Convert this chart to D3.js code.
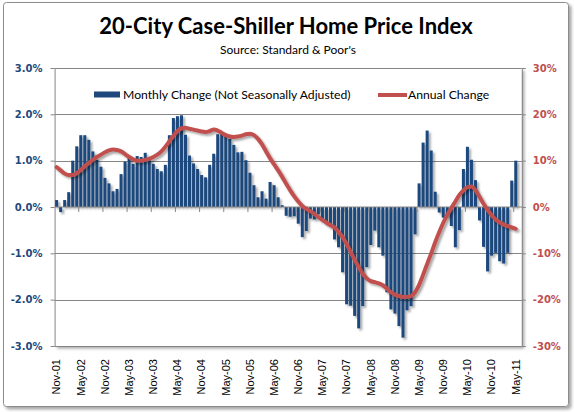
<!DOCTYPE html>
<html>
<head>
<meta charset="utf-8">
<script src="https://cdn.jsdelivr.net/npm/d3@7"></script>
<style>
    body { margin: 0; background: #fff; }
    svg { display: block; }
    .chart-title { font-family: Lato, "Open Sans", sans-serif; font-weight: bold; font-size: 22px; fill: #000; }
    .chart-subtitle { font-family: Lato, "Open Sans", sans-serif; font-size: 12px; fill: #000; }
    .legend text { font-family: Lato, "Open Sans", sans-serif; font-size: 12.2px; fill: #000; }
    .axis-left text { font-family: "DejaVu Sans", sans-serif; font-weight: bold; font-size: 10px; fill: #1F497D; }
    .axis-right text { font-family: "DejaVu Sans", sans-serif; font-weight: bold; font-size: 10px; fill: #C0504D; }
    .axis-x text { font-family: "Liberation Sans", Arial, sans-serif; font-size: 11px; fill: #000; }
</style>
</head>
<body>
<svg id="chart" width="574" height="412"></svg>
<script>
// monthly change, not seasonally adjusted (%), Nov-01 .. May-11
const monthly = [
    0.15, -0.11, 0.15, 0.32, 1.00, 1.31, 1.55, 1.55, 1.45, 1.20,
    1.02, 0.87, 0.63, 0.51, 0.34, 0.39, 0.71, 0.98, 1.07, 0.93,
    1.10, 1.08, 1.17, 1.03, 0.93, 0.82, 0.77, 0.91, 1.55, 1.92,
    1.96, 1.98, 1.56, 1.11, 0.94, 0.82, 0.69, 0.64, 0.91, 1.15,
    1.57, 1.58, 1.53, 1.47, 1.34, 1.18, 1.19, 1.01, 0.74, 0.47,
    0.21, 0.34, 0.18, 0.54, 0.47, 0.21, 0.04, -0.19, -0.21, -0.20,
    -0.36, -0.65, -0.52, -0.25, -0.27, -0.16, -0.25, -0.36, -0.43, -0.70,
    -0.87, -1.41, -2.10, -2.13, -2.35, -2.62, -2.14, -1.30, -0.82, -0.51,
    -0.87, -1.05, -1.84, -2.21, -2.30, -2.57, -2.82, -2.23, -2.14, -0.59,
    0.51, 1.39, 1.65, 1.22, 0.33, -0.12, -0.23, -0.20, -0.41, -0.87,
    -0.50, 0.82, 1.30, 1.02, 0.58, -0.29, -0.86, -1.39, -1.05, -0.99,
    -1.17, -1.22, -0.99, 0.57, 1.00
];

// annual change (%), same months
const annual = [
    8.6, 7.9, 7.2, 6.9, 6.9, 7.3, 8.0, 8.8, 9.5, 10.2,
    10.8, 11.3, 11.8, 12.2, 12.4, 12.3, 12.0, 11.4, 10.8, 10.3,
    10.0, 10.0, 10.2, 10.4, 10.8, 11.3, 12.0, 13.0, 14.2, 15.4,
    16.4, 17.0, 17.1, 16.9, 16.7, 16.5, 16.3, 16.2, 16.4, 16.7,
    16.5, 16.0, 15.5, 15.2, 15.1, 15.2, 15.4, 15.7, 15.8, 15.5,
    14.7, 13.5, 12.0, 10.5, 9.2, 7.9, 6.5, 5.0, 3.6, 2.3,
    1.2, 0.2, -0.4, -0.9, -1.5, -2.2, -2.8, -3.4, -3.9, -4.4,
    -5.4, -6.5, -8.0, -9.7, -11.4, -13.0, -14.4, -15.4, -16.0, -16.2,
    -16.5, -16.9, -17.6, -18.4, -18.9, -19.2, -19.4, -19.4, -19.2, -18.4,
    -16.8, -14.6, -12.3, -10.0, -7.6, -5.4, -3.4, -1.7, -0.2, 1.2,
    2.6, 3.6, 4.3, 4.4, 3.6, 2.2, 0.7, -0.6, -1.8, -2.7,
    -3.3, -3.8, -4.1, -4.4, -4.7
];

const tickLabels = [
    "Nov-01", "May-02", "Nov-02", "May-03", "Nov-03", "May-04", "Nov-04",
    "May-05", "Nov-05", "May-06", "Nov-06", "May-07", "Nov-07", "May-08",
    "Nov-08", "May-09", "Nov-09", "May-10", "Nov-10", "May-11"
];
const leftTicks = [-3, -2, -1, 0, 1, 2, 3];
const rightTicks = [-30, -20, -10, 0, 10, 20, 30];

const fmtMonth = d3.timeFormat("%b-%y");
// category axis runs one empty month past the data (Jun-11)
const months = d3.timeMonth.range(new Date(2001, 10, 1), new Date(2011, 6, 1)).map(fmtMonth);

const svg = d3.select("#chart");
const width = 574, height = 412;
const plot = { left: 54.6, right: 521.8, top: 68, bottom: 346 };

const barColor = "#1F497D";
const lineColor = "#C0504D";
const gridColor = "#868686";

// drop shadow like the spreadsheet effect
const defs = svg.append("defs");
function addShadow(id, dx, dy, blur, opacity) {
    defs.append("filter")
        .attr("id", id)
        .attr("x", "-10%").attr("y", "-10%")
        .attr("width", "130%").attr("height", "130%")
        .append("feDropShadow")
        .attr("dx", dx).attr("dy", dy)
        .attr("stdDeviation", blur)
        .attr("flood-color", "#000")
        .attr("flood-opacity", opacity);
}
addShadow("shadow", 2, 2, 1.3, 0.35);
addShadow("shadow-box", 2.5, 2.5, 1.8, 0.35);

// outer chart border
svg.append("rect")
    .attr("x", 3.5).attr("y", 2.5)
    .attr("width", 565).attr("height", 404)
    .attr("rx", 3)
    .attr("fill", "#fff")
    .attr("stroke", "#8c8c8c")
    .attr("filter", "url(#shadow-box)");

// titles
svg.append("text")
    .attr("x", 286).attr("y", 34)
    .attr("text-anchor", "middle")
    .attr("class", "chart-title")
    .text("20-City Case-Shiller Home Price Index");
svg.append("text")
    .attr("x", 288).attr("y", 54)
    .attr("text-anchor", "middle")
    .attr("class", "chart-subtitle")
    .text("Source: Standard & Poor's");

// scales
const x = d3.scaleBand()
    .domain(months)
    .range([plot.left, plot.right])
    .paddingInner(0.25)
    .paddingOuter(0.125);
const yL = d3.scaleLinear().domain([-3, 3]).range([plot.bottom, plot.top]);
const yR = d3.scaleLinear().domain([-30, 30]).range([plot.bottom, plot.top]);

// plot area with shadow
svg.append("rect")
    .attr("x", plot.left).attr("y", plot.top)
    .attr("width", plot.right - plot.left)
    .attr("height", plot.bottom - plot.top)
    .attr("fill", "#fff")
    .attr("filter", "url(#shadow-box)");

// gridlines
svg.append("g")
    .selectAll("line")
    .data(leftTicks.filter(d => d !== 0))
    .join("line")
    .attr("x1", plot.left).attr("x2", plot.right)
    .attr("y1", d => Math.round(yL(d)) + 0.5)
    .attr("y2", d => Math.round(yL(d)) + 0.5)
    .attr("stroke", gridColor);

// left axis
const axisL = svg.append("g")
    .attr("class", "axis-left")
    .attr("transform", `translate(${plot.left},0)`)
    .call(d3.axisLeft(yL).tickValues(leftTicks).tickSize(4).tickSizeOuter(0).tickPadding(8)
        .tickFormat(d => d.toFixed(1) + "%"));
axisL.selectAll("line, path").attr("stroke", gridColor);

// right axis
const axisR = svg.append("g")
    .attr("class", "axis-right")
    .attr("transform", `translate(${plot.right},0)`)
    .call(d3.axisRight(yR).tickValues(rightTicks).tickSize(4).tickSizeOuter(0).tickPadding(7)
        .tickFormat(d => d + "%"));
axisR.selectAll("line, path").attr("stroke", gridColor);

// monthly bars
svg.append("g")
    .attr("filter", "url(#shadow)")
    .selectAll("rect")
    .data(monthly)
    .join("rect")
    .attr("x", (d, i) => x(months[i]))
    .attr("width", x.bandwidth())
    .attr("y", d => yL(Math.max(0, d)))
    .attr("height", d => Math.abs(yL(d) - yL(0)))
    .attr("fill", barColor);

// category axis along zero, ticks between months every half year
const zeroY = yL(0);
const zeroAxis = svg.append("g").attr("stroke", gridColor);
zeroAxis.append("line")
    .attr("x1", plot.left).attr("x2", plot.right)
    .attr("y1", zeroY).attr("y2", zeroY);
zeroAxis.selectAll("line.tick")
    .data(months.filter((m, i) => i > 0 && i % 6 === 0))
    .join("line")
    .attr("class", "tick")
    .attr("x1", m => x(m) - (x.step() - x.bandwidth()) / 2)
    .attr("x2", m => x(m) - (x.step() - x.bandwidth()) / 2)
    .attr("y1", zeroY).attr("y2", zeroY + 5);

// x labels at the bottom, rotated
const axisX = svg.append("g")
    .attr("class", "axis-x")
    .attr("transform", `translate(0,${plot.bottom})`)
    .call(d3.axisBottom(x).tickValues(tickLabels).tickSize(0));
axisX.select(".domain").remove();
axisX.selectAll("text")
    .attr("transform", "rotate(-90)")
    .attr("x", -13)
    .attr("y", 0)
    .attr("dy", "0.35em")
    .style("text-anchor", "end");

// annual change line
const line = d3.line()
    .x((d, i) => x(months[i]) + x.bandwidth() / 2)
    .y(d => yR(d))
    .curve(d3.curveMonotoneX);
svg.append("path")
    .datum(annual)
    .attr("d", line)
    .attr("fill", "none")
    .attr("stroke", lineColor)
    .attr("stroke-width", 4)
    .attr("stroke-linejoin", "round")
    .attr("stroke-linecap", "round")
    .attr("filter", "url(#shadow)");

// legend
const legend = svg.append("g").attr("class", "legend");
legend.append("rect")
    .attr("x", 94).attr("y", 91.5)
    .attr("width", 26).attr("height", 6)
    .attr("fill", barColor);
legend.append("text").attr("x", 123).attr("y", 99).text("Monthly Change (Not Seasonally Adjusted)");
legend.append("line")
    .attr("x1", 378).attr("x2", 407)
    .attr("y1", 95).attr("y2", 95)
    .attr("stroke", lineColor)
    .attr("stroke-width", 4);
legend.append("text").attr("x", 408).attr("y", 99).text("Annual Change");
</script>
</body>
</html>
